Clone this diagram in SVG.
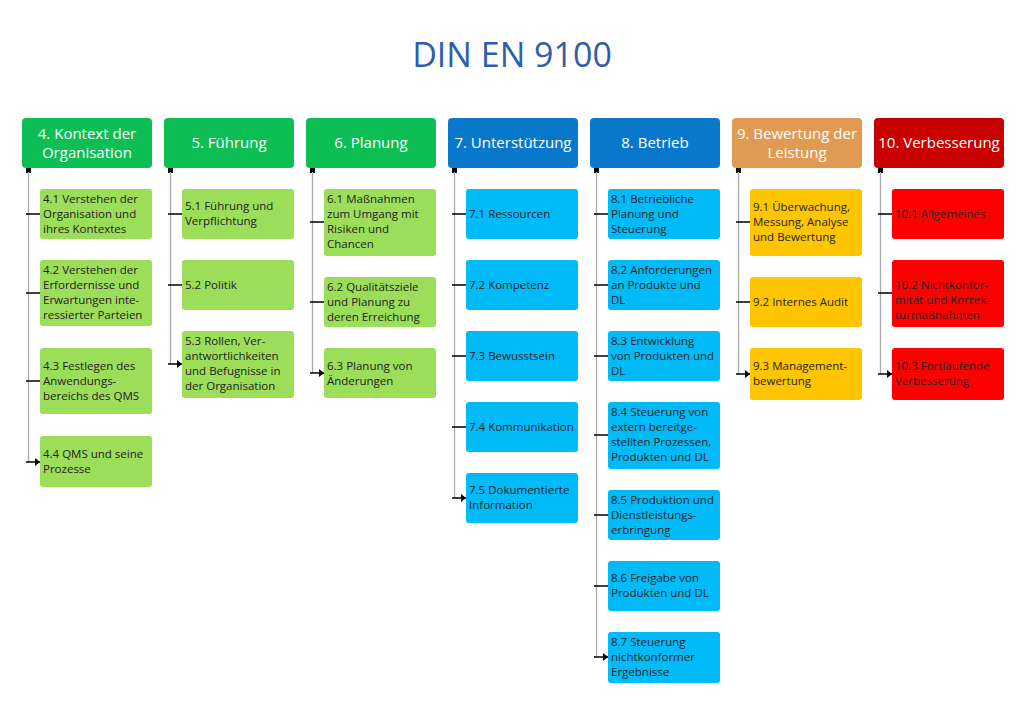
<svg xmlns="http://www.w3.org/2000/svg" width="1024" height="722" viewBox="0 0 1024 722">
<style>
.h{font-family:"Open Sans",sans-serif;font-size:15px;fill:#fff;text-anchor:middle}
.c{font-family:"Open Sans",sans-serif;font-size:11.5px;fill:#222}
.l{stroke:#aaa;stroke-width:1.3;fill:none}
</style>
<defs>
<marker id="a" markerWidth="6" markerHeight="8" refX="5" refY="4" orient="auto" markerUnits="userSpaceOnUse"><path d="M0,0 L5,4 L0,8 z" fill="#000"/></marker>
</defs>
<rect width="1024" height="722" fill="#fff"/>
<text x="512" y="67" font-family="Open Sans, sans-serif" font-size="34" fill="#2F5EA6" text-anchor="middle">DIN EN 9100</text>
<g id="connectors">
<g fill="#000">
<rect x="26" y="168" width="5" height="5"/><rect x="168" y="168" width="5" height="5"/><rect x="310" y="168" width="5" height="5"/><rect x="452" y="168" width="5" height="5"/><rect x="594" y="168" width="5" height="5"/><rect x="736" y="168" width="5" height="5"/><rect x="878" y="168" width="5" height="5"/>
</g>
<path class="l" d="M28.5,172V462 M170.5,172V364 M312.5,172V373 M454.5,172V498 M596.5,172V657 M738.5,172V374 M880.5,172V374"/>
<g stroke="#000" stroke-width="1.5" marker-end="url(#a)">
<path d="M26,214H40M26,293H40M26,381H40M26,462H40"/>
<path d="M168,214H182M168,285H182M168,364H182"/>
<path d="M310,222H324M310,302H324M310,373H324"/>
<path d="M452,214H466M452,285H466M452,356H466M452,427H466M452,498H466"/>
<path d="M594,214H608M594,285H608M594,356H608M594,435H608M594,515H608M594,586H608M594,657H608"/>
<path d="M736,222H750M736,302H750M736,374H750"/>
<path d="M878,214H892M878,293H892M878,374H892"/>
</g>
</g>
<g id="n4"><rect x="22" y="118" width="130" height="50" rx="4" fill="#0DBE54"/><text class="h" x="87" y="139">4. Kontext der</text><text class="h" x="87" y="158">Organisation</text></g>
<g id="n5"><rect x="164" y="118" width="130" height="50" rx="4" fill="#0DBE54"/><text class="h" x="229" y="148">5. Führung</text></g>
<g id="n6"><rect x="306" y="118" width="130" height="50" rx="4" fill="#0DBE54"/><text class="h" x="371" y="148">6. Planung</text></g>
<g id="n7"><rect x="448" y="118" width="130" height="50" rx="4" fill="#0A78CA"/><text class="h" x="513" y="148">7. Unterstützung</text></g>
<g id="n8"><rect x="590" y="118" width="130" height="50" rx="4" fill="#0A78CA"/><text class="h" x="655" y="148">8. Betrieb</text></g>
<g id="n9"><rect x="732" y="118" width="130" height="50" rx="4" fill="#E09A52"/><text class="h" x="797" y="139">9. Bewertung der</text><text class="h" x="797" y="158">Leistung</text></g>
<g id="n10"><rect x="874" y="118" width="130" height="50" rx="4" fill="#C80000"/><text class="h" x="939" y="148">10. Verbesserung</text></g>

<g fill="#9CDD5A">
<g id="n41"><rect x="40" y="189" width="112" height="50" rx="3"/><text class="c" x="43" y="203">4.1 Verstehen der<tspan x="43" dy="15">Organisation und</tspan><tspan x="43" dy="15">ihres Kontextes</tspan></text></g>
<g id="n42"><rect x="40" y="260" width="112" height="66" rx="3"/><text class="c" x="43" y="274">4.2 Verstehen der<tspan x="43" dy="15">Erfordernisse und</tspan><tspan x="43" dy="15">Erwartungen inte-</tspan><tspan x="43" dy="15">ressierter Parteien</tspan></text></g>
<g id="n43"><rect x="40" y="348" width="112" height="66" rx="3"/><text class="c" x="43" y="370">4.3 Festlegen des<tspan x="43" dy="15">Anwendungs-</tspan><tspan x="43" dy="15">bereichs des QMS</tspan></text></g>
<g id="n44"><rect x="40" y="436" width="112" height="51" rx="3"/><text class="c" x="43" y="458">4.4 QMS und seine<tspan x="43" dy="15">Prozesse</tspan></text></g>
<g id="n51"><rect x="182" y="189" width="112" height="50" rx="3"/><text class="c" x="185" y="210">5.1 Führung und<tspan x="185" dy="15">Verpflichtung</tspan></text></g>
<g id="n52"><rect x="182" y="260" width="112" height="50" rx="3"/><text class="c" x="185" y="289">5.2 Politik</text></g>
<g id="n53"><rect x="182" y="331" width="112" height="67" rx="3"/><text class="c" x="185" y="345">5.3 Rollen, Ver-<tspan x="185" dy="15">antwortlichkeiten</tspan><tspan x="185" dy="15">und Befugnisse in</tspan><tspan x="185" dy="15">der Organisation</tspan></text></g>
<g id="n61"><rect x="324" y="189" width="112" height="67" rx="3"/><text class="c" x="327" y="203">6.1 Maßnahmen<tspan x="327" dy="15">zum Umgang mit</tspan><tspan x="327" dy="15">Risiken und</tspan><tspan x="327" dy="15">Chancen</tspan></text></g>
<g id="n62"><rect x="324" y="277" width="112" height="50" rx="3"/><text class="c" x="327" y="291">6.2 Qualitätsziele<tspan x="327" dy="15">und Planung zu</tspan><tspan x="327" dy="15">deren Erreichung</tspan></text></g>
<g id="n63"><rect x="324" y="348" width="112" height="50" rx="3"/><text class="c" x="327" y="370">6.3 Planung von<tspan x="327" dy="15">Änderungen</tspan></text></g>
</g>
<g fill="#00BBF8">
<g id="n71"><rect x="466" y="189" width="112" height="50" rx="3"/><text class="c" x="469" y="218">7.1 Ressourcen</text></g>
<g id="n72"><rect x="466" y="260" width="112" height="50" rx="3"/><text class="c" x="469" y="289">7.2 Kompetenz</text></g>
<g id="n73"><rect x="466" y="331" width="112" height="50" rx="3"/><text class="c" x="469" y="360">7.3 Bewusstsein</text></g>
<g id="n74"><rect x="466" y="402" width="112" height="50" rx="3"/><text class="c" x="469" y="431">7.4 Kommunikation</text></g>
<g id="n75"><rect x="466" y="473" width="112" height="50" rx="3"/><text class="c" x="469" y="494">7.5 Dokumentierte<tspan x="469" dy="15">Information</tspan></text></g>
<g id="n81"><rect x="608" y="189" width="112" height="50" rx="3"/><text class="c" x="611" y="203">8.1 Betriebliche<tspan x="611" dy="15">Planung und</tspan><tspan x="611" dy="15">Steuerung</tspan></text></g>
<g id="n82"><rect x="608" y="260" width="112" height="50" rx="3"/><text class="c" x="611" y="274">8.2 Anforderungen<tspan x="611" dy="15">an Produkte und</tspan><tspan x="611" dy="15">DL</tspan></text></g>
<g id="n83"><rect x="608" y="331" width="112" height="50" rx="3"/><text class="c" x="611" y="345">8.3 Entwicklung<tspan x="611" dy="15">von Produkten und</tspan><tspan x="611" dy="15">DL</tspan></text></g>
<g id="n84"><rect x="608" y="402" width="112" height="67" rx="3"/><text class="c" x="611" y="416">8.4 Steuerung von<tspan x="611" dy="15">extern bereitge-</tspan><tspan x="611" dy="15">stellten Prozessen,</tspan><tspan x="611" dy="15">Produkten und DL</tspan></text></g>
<g id="n85"><rect x="608" y="490" width="112" height="50" rx="3"/><text class="c" x="611" y="504">8.5 Produktion und<tspan x="611" dy="15">Dienstleistungs-</tspan><tspan x="611" dy="15">erbringung</tspan></text></g>
<g id="n86"><rect x="608" y="561" width="112" height="50" rx="3"/><text class="c" x="611" y="582">8.6 Freigabe von<tspan x="611" dy="15">Produkten und DL</tspan></text></g>
<g id="n87"><rect x="608" y="632" width="112" height="51" rx="3"/><text class="c" x="611" y="646">8.7 Steuerung<tspan x="611" dy="15">nichtkonformer</tspan><tspan x="611" dy="15">Ergebnisse</tspan></text></g>
</g>
<g fill="#FFC600">
<g id="n91"><rect x="750" y="189" width="112" height="67" rx="3"/><text class="c" x="753" y="211">9.1 Überwachung,<tspan x="753" dy="15">Messung, Analyse</tspan><tspan x="753" dy="15">und Bewertung</tspan></text></g>
<g id="n92"><rect x="750" y="277" width="112" height="50" rx="3"/><text class="c" x="753" y="306">9.2 Internes Audit</text></g>
<g id="n93"><rect x="750" y="348" width="112" height="52" rx="3"/><text class="c" x="753" y="370">9.3 Management-<tspan x="753" dy="15">bewertung</tspan></text></g>
</g>
<g fill="#FF0000">
<g id="n101"><rect x="892" y="189" width="112" height="50" rx="3"/><text class="c" x="895" y="218">10.1 Allgemeines</text></g>
<g id="n102"><rect x="892" y="260" width="112" height="67" rx="3"/><text class="c" x="895" y="289">10.2 Nichtkonfor-<tspan x="895" dy="15">mität und Korrek-</tspan><tspan x="895" dy="15">turmaßnahmen</tspan></text></g>
<g id="n103"><rect x="892" y="348" width="112" height="52" rx="3"/><text class="c" x="895" y="370">10.3 Fortlaufende<tspan x="895" dy="15">Verbesserung</tspan></text></g>
</g>
</svg>
